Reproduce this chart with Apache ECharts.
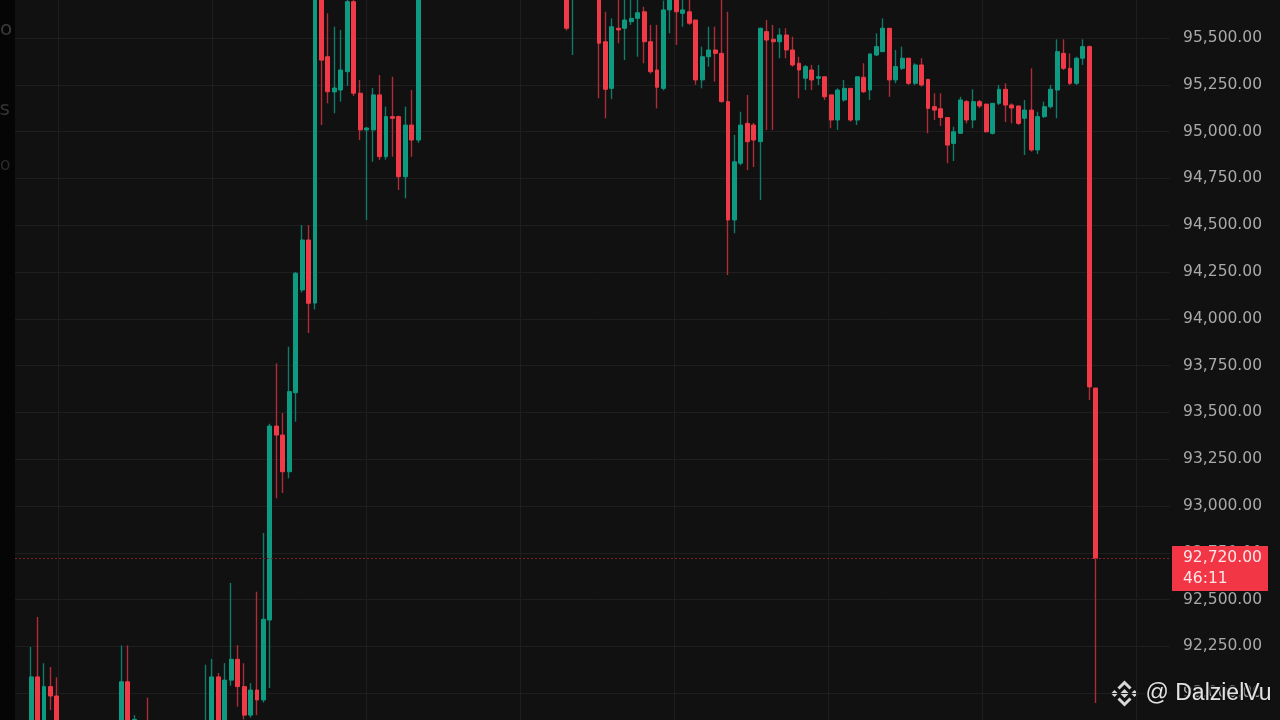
<!DOCTYPE html>
<html>
<head>
<meta charset="utf-8">
<script src="https://cdn.jsdelivr.net/npm/echarts@6/dist/echarts.min.js"></script>
<style>
html,body{margin:0;padding:0;background:#111111;}
#chart{width:1280px;height:720px;}
</style>
</head>
<body>
<div id="chart"></div>
<script>
// ---- data (slot index = candle position; 179 slots, last 11 empty) ----
const slotCount = 179;
const categories = Array.from({length: slotCount}, (_, i) => 'bar ' + i);

const open = [
91720,91680,91800,92087,91830,92035,91985,91800,91740,91690,
91720,91660,91700,91640,91690,91730,91790,92061,91780,91840,
91790,91720,91680,91640,91700,91660,91710,91750,91700,91760,
91830,92087,91840,92070,92181,92035,91883,92017,91964,92391,
93427,93379,93183,93605,94154,94421,94084,95760,95400,95212,
95222,95320,95694,95205,95009,95009,95196,94866,95080,95080,
94759,95035,94955,95760,95850,95920,95880,95960,96050,96010,
95940,96000,96080,96030,95960,95900,95970,95920,95850,95900,
95830,95880,95820,95870,95800,95760,95720,95780,95850,95810,
95760,95480,95231,95552,95552,95587,95605,95640,95480,95329,
95231,95650,95730,95632,95640,95596,95276,95400,95436,95418,
95160,94528,94831,95044,95035,94946,95534,95493,95480,95516,
95436,95365,95285,95329,95285,95293,95196,95062,95169,95231,
95062,95290,95222,95409,95427,95552,95276,95338,95392,95258,
95356,95279,95133,95122,95075,94937,94991,95160,95062,95160,
95147,94991,95151,95226,95142,95137,95071,95115,94902,95080,
95133,95222,95418,95338,95258,95392,95454,93630
];
const close = [
91680,91740,92087,91820,92035,91985,91800,91740,91690,91720,
91660,91700,91640,91690,91730,91790,92061,91800,91860,91780,
91720,91680,91640,91700,91660,91710,91750,91700,91760,91830,
92087,91840,92070,92181,92035,91883,92017,91964,92395,93427,
93379,93183,93611,94243,94421,94083,95760,95382,95213,95233,
95329,95694,95205,95009,95019,95196,94866,95080,95071,94759,
95035,94955,95760,95850,95920,95880,95960,96050,96010,95940,
96000,96080,96030,95960,95900,95970,95920,95850,95900,95830,
95880,95820,95870,95800,95760,95552,95780,95850,95810,95760,
95472,95226,95560,95543,95596,95605,95635,95480,95320,95237,
95650,95730,95640,95650,95579,95276,95400,95436,95418,95160,
94528,94839,95035,94946,94955,95552,95489,95480,95516,95436,
95356,95329,95347,95276,95293,95186,95062,95222,95231,95062,
95293,95213,95415,95454,95552,95276,95347,95392,95258,95356,
95249,95124,95115,95075,94928,94999,95169,95062,95160,95137,
94999,95151,95226,95142,95126,95044,95115,94902,95080,95133,
95226,95427,95338,95258,95392,95454,93636,92720
];
const low = [
91600,91620,91700,91750,91780,91910,91700,91650,91600,91620,
91580,91600,91560,91590,91640,91680,91720,91700,91700,91700,
91650,91600,91560,91590,91600,91620,91650,91640,91660,91690,
91780,91800,91800,92040,91928,91860,91870,91883,91950,92028,
93041,93069,93148,93450,94140,93924,94050,95035,95151,95098,
95160,95244,95190,94955,94528,94839,94848,94850,94866,94688,
94644,94866,94940,95730,95800,95820,95840,95900,95940,95880,
95890,95950,95970,95900,95840,95850,95860,95790,95800,95770,
95780,95760,95770,95740,95725,95540,95409,95740,95750,95730,
95178,95071,95173,95472,95382,95570,95400,95365,95310,95124,
95220,95525,95463,95560,95570,95250,95231,95347,95267,95155,
94234,94457,94820,94795,94811,94635,95009,95009,95392,95392,
95347,95178,95222,95222,95249,95169,95018,95009,95160,95053,
95035,95206,95169,95404,95425,95186,95258,95329,95249,95249,
95240,94991,95062,95030,94831,94843,94991,95044,95018,95126,
94995,94985,95142,95051,95044,95035,94875,94893,94880,95073,
95124,95071,95329,95249,95249,95356,93566,91948
];
const high = [
91790,91800,92247,92407,92160,92140,92085,91830,91800,91790,
91780,91760,91770,91750,91800,91840,92255,92255,91883,91850,
91976,91790,91760,91750,91780,91770,91820,91830,91840,92152,
92183,92108,92161,92589,92257,92160,92054,92542,92856,93440,
93762,93497,93851,94250,94501,94501,95800,95790,95632,95560,
95543,95720,95720,95276,95025,95233,95302,95133,95293,95085,
95133,95222,95800,95900,95980,95990,96020,96100,96120,96060,
96070,96140,96130,96090,96000,96020,96040,95960,95950,95940,
95930,95920,95910,95900,95850,95800,95820,95890,95900,95860,
95800,95640,95605,95720,95720,95710,95710,95667,95570,95570,
95700,95760,95770,95720,95710,95596,95454,95560,95560,95710,
95640,94982,95106,95196,95046,95555,95596,95570,95552,95552,
95507,95400,95356,95356,95356,95293,95196,95231,95276,95231,
95293,95365,95415,95525,95605,95552,95436,95454,95392,95365,
95392,95279,95205,95205,95075,95026,95186,95169,95226,95169,
95147,95151,95249,95258,95151,95137,95169,95338,95106,95160,
95249,95493,95493,95418,95400,95493,95460,93630
];

const yMin = 91750, yMax = 95750, yStep = 250;
const lastPrice = 92720;
const countdown = '46:11';
const watermark = '@ DalzielVu';

// ---- styles ----
const UP = '#0e9a81', DOWN = '#f03a47';
const UP_WICK = '#0f7b68', DOWN_WICK = '#b02c38';
const GRID = '#1e1e1e';
const LABEL = '#a9a9a9';
const FONT = 'DejaVu Sans';

const candles = open.map((o, i) => [o, close[i], low[i], high[i]]);
const bodies = open.map((o, i) => [o, close[i], Math.min(o, close[i]), Math.max(o, close[i])]);

const fmt = v => v.toLocaleString('en-US', {minimumFractionDigits: 2, maximumFractionDigits: 2});

const chart = echarts.init(document.getElementById('chart'), null, {renderer: 'canvas'});

const option = {
  backgroundColor: '#111111',
  animation: false,
  grid: [
    {left: 15, right: 110, top: -8.8, bottom: -20, containLabel: false, outerBoundsMode: 'none'},
    {left: 58, width: 1078, top: -8.8, bottom: -20, containLabel: false, outerBoundsMode: 'none'}
  ],
  xAxis: [
    {type: 'category', gridIndex: 0, data: categories, boundaryGap: true,
     axisLine: {show: false}, axisTick: {show: false}, axisLabel: {show: false}, splitLine: {show: false}},
    {type: 'value', gridIndex: 1, min: 0, max: 1078, interval: 154,
     axisLine: {show: false}, axisTick: {show: false}, axisLabel: {show: false},
     splitLine: {show: true, lineStyle: {color: GRID, width: 1}}}
  ],
  yAxis: [
    {type: 'value', gridIndex: 0, position: 'right', min: yMin, max: yMax, interval: yStep,
     axisLine: {show: false}, axisTick: {show: false},
     splitLine: {show: true, lineStyle: {color: GRID, width: 1}},
     axisLabel: {color: LABEL, fontFamily: FONT, fontSize: 15.5, align: 'right', margin: 92,
                 padding: [0, 0, 6, 0], formatter: v => fmt(v)}},
    {type: 'value', gridIndex: 1, min: 0, max: 1, show: false, splitLine: {show: false}}
  ],
  series: [
    {name: 'wick', type: 'candlestick', xAxisIndex: 0, yAxisIndex: 0, data: candles,
     barWidth: 1, silent: true, z: 2,
     itemStyle: {color: UP_WICK, color0: DOWN_WICK, borderColor: UP_WICK, borderColor0: DOWN_WICK, borderWidth: 1.4}},
    {name: 'body', type: 'candlestick', xAxisIndex: 0, yAxisIndex: 0, data: bodies,
     barWidth: 4.4, silent: true, z: 3,
     itemStyle: {color: UP, color0: DOWN, borderColor: UP, borderColor0: DOWN, borderWidth: 1}},
    {name: 'price', type: 'line', xAxisIndex: 0, yAxisIndex: 0, data: [], silent: true,
     markLine: {silent: true, symbol: ['none', 'none'], label: {show: false},
                lineStyle: {color: '#7c2430', type: [2, 2], width: 1},
                data: [{yAxis: lastPrice}]}}
  ],
  graphic: [
    {type: 'rect', left: 0, top: 0, shape: {width: 15, height: 720}, style: {fill: '#050505'}, z: 10},
    {type: 'text', left: 0, top: 20, style: {text: 'o', fill: '#3a3a3a', font: '20px DejaVu Sans'}, z: 11},
    {type: 'text', left: -6, top: 100, style: {text: 'ıs', fill: '#333333', font: '20px DejaVu Sans'}, z: 11},
    {type: 'text', left: 0, top: 157, style: {text: 'o', fill: '#2a2a2a', font: '17px DejaVu Sans'}, z: 11},
    {type: 'group', left: 1111, top: 680, z: 20, children: [
      {type: 'polygon', shape: {points: [[13.5, 9], [18, 13.5], [13.5, 18], [9, 13.5]]}, style: {fill: '#d8d8d8'}},
      {type: 'polygon', shape: {points: [[3.5, 10], [7, 13.5], [3.5, 17], [0, 13.5]]}, style: {fill: '#d8d8d8'}},
      {type: 'polygon', shape: {points: [[23.5, 10], [27, 13.5], [23.5, 17], [20, 13.5]]}, style: {fill: '#d8d8d8'}},
      {type: 'polyline', shape: {points: [[7.5, 8.5], [13.5, 2.5], [19.5, 8.5]]}, style: {stroke: '#d8d8d8', lineWidth: 3, fill: null}},
      {type: 'polyline', shape: {points: [[7.5, 18.5], [13.5, 24.5], [19.5, 18.5]]}, style: {stroke: '#d8d8d8', lineWidth: 3, fill: null}}
    ]},
    {type: 'text', left: 1144, top: 681, z: 20,
     style: {text: watermark, fill: '#e2e2e2', font: '23px Liberation Sans',
             stroke: 'rgba(17,17,17,0.85)', lineWidth: 3}}
  ]
};
chart.setOption(option);

// price label box positioned through the y scale
const py = chart.convertToPixel({yAxisIndex: 0}, lastPrice);
chart.setOption({
  graphic: option.graphic.concat([
    {type: 'rect', left: 1172, top: py - 12.5, shape: {width: 96, height: 45}, style: {fill: '#f23645'}, z: 15},
    {type: 'text', left: 1183, top: py - 8.5, z: 16,
     style: {text: fmt(lastPrice), fill: '#fde6e8', font: '15.5px DejaVu Sans'}},
    {type: 'text', left: 1183, top: py + 12.5, z: 16,
     style: {text: countdown, fill: '#fde6e8', font: '15.5px DejaVu Sans'}}
  ])
});
</script>
</body>
</html>
